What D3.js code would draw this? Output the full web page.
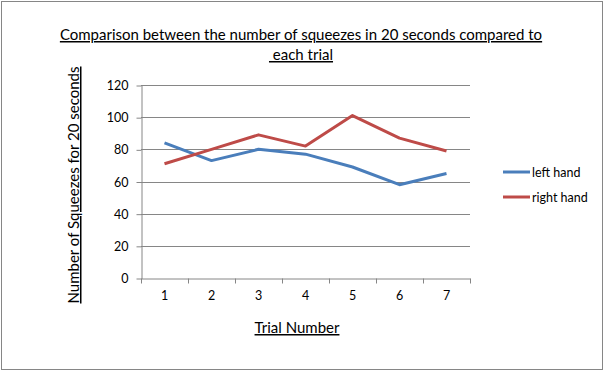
<!DOCTYPE html>
<html lang="en">
<head>
  <meta charset="UTF-8">
  <title>Squeezes per trial</title>
  <script src="https://d3js.org/d3.v7.min.js"></script>
  <style>
    body { margin: 0; background: #fff; }
    text { font-family: Lato, "Open Sans", sans-serif; fill: #000; }
  </style>
</head>
<body>
  <div id="chart-container"></div>

  <script>
    // Data
    const trials = ['1', '2', '3', '4', '5', '6', '7'];
    const leftHand = [84, 73, 80, 77, 69, 58, 65];
    const rightHand = [71, 80, 89, 82, 101, 87, 79];
    const yTicks = [0, 20, 40, 60, 80, 100, 120];
    const seriesNames = ['left hand', 'right hand'];

    const width = 604;
    const height = 372;
    const plot = { left: 141, right: 470, top: 85, bottom: 278 };

    const svg = d3.select('#chart-container')
      .append('svg')
      .attr('width', width)
      .attr('height', height);

    // Outer chart border
    svg.append('rect')
      .attr('x', 1.5).attr('y', 1.5)
      .attr('width', width - 3).attr('height', height - 4)
      .attr('fill', '#fff')
      .attr('stroke', '#868686');

    const xScale = d3.scaleBand()
      .domain(trials)
      .range([plot.left, plot.right]);

    const yScale = d3.scaleLinear()
      .domain([0, 120])
      .range([plot.bottom, plot.top]);

    // Gridlines
    svg.append('g')
      .selectAll('line')
      .data(yTicks.filter(d => d > 0))
      .join('line')
      .attr('x1', plot.left).attr('x2', plot.right)
      .attr('y1', d => Math.round(yScale(d)) + 0.5)
      .attr('y2', d => Math.round(yScale(d)) + 0.5)
      .attr('stroke', '#868686');

    // Y axis
    const yAxis = svg.append('g')
      .attr('transform', `translate(${plot.left + 0.5},0.5)`)
      .call(d3.axisLeft(yScale).tickValues(yTicks).tickSizeInner(5).tickSizeOuter(0).tickPadding(8));

    // X axis, ticks sit between categories
    const xAxis = svg.append('g')
      .attr('transform', `translate(0,${plot.bottom + 0.5})`)
      .call(d3.axisBottom(xScale).tickSize(0).tickPadding(13));

    xAxis.selectAll('.boundary')
      .data(trials.map(t => xScale(t)).concat([plot.right]))
      .join('line')
      .attr('class', 'boundary')
      .attr('x1', d => Math.round(d) + 0.5).attr('x2', d => Math.round(d) + 0.5)
      .attr('y1', 0).attr('y2', 5)
      .attr('stroke', '#868686');

    [yAxis, xAxis].forEach(ax => {
      ax.select('.domain').attr('stroke', '#868686');
      ax.selectAll('.tick line').attr('stroke', '#868686');
      ax.selectAll('.tick text')
        .style('font-family', 'Lato, "Open Sans", sans-serif')
        .style('font-size', '12.5px')
        .attr('fill', '#000');
    });

    // Series lines
    const line = d3.line()
      .x((d, i) => xScale(trials[i]) + xScale.bandwidth() / 2)
      .y(d => yScale(d));

    const series = [
      { name: seriesNames[0], values: leftHand, color: '#4A7EBB' },
      { name: seriesNames[1], values: rightHand, color: '#BE4B48' }
    ];

    svg.append('g')
      .selectAll('path')
      .data(series)
      .join('path')
      .attr('d', d => line(d.values))
      .attr('fill', 'none')
      .attr('stroke', d => d.color)
      .attr('stroke-width', 3)
      .attr('stroke-linejoin', 'round');

    // Legend
    const legend = svg.append('g')
      .selectAll('g')
      .data(series)
      .join('g')
      .attr('transform', (d, i) => `translate(503,${172 + i * 25})`);

    legend.append('line')
      .attr('x1', 0).attr('x2', 27)
      .attr('stroke', d => d.color)
      .attr('stroke-width', 3);

    legend.append('text')
      .attr('x', 29).attr('y', 4.5)
      .style('font-size', '12.5px')
      .text(d => d.name);

    // Titles (underlined like the original)
    const title = svg.append('text')
      .attr('x', 301)
      .attr('text-anchor', 'middle')
      .style('font-size', '15px')
      .style('text-decoration', 'underline');
    title.append('tspan').attr('x', 301).attr('y', 40)
      .text('Comparison between the number  of squeezes in 20 seconds compared  to');
    title.append('tspan').attr('x', 301).attr('y', 60)
      .text(' each trial');

    svg.append('text')
      .attr('x', 297).attr('y', 333)
      .attr('text-anchor', 'middle')
      .style('font-size', '15px')
      .style('text-decoration', 'underline')
      .text('Trial Number');

    svg.append('text')
      .attr('transform', 'rotate(-90)')
      .attr('x', -185)
      .attr('y', 79)
      .attr('text-anchor', 'middle')
      .style('font-size', '15px')
      .style('text-decoration', 'underline')
      .text('Number  of Squeezes for 20 seconds');
  </script>
</body>
</html>
